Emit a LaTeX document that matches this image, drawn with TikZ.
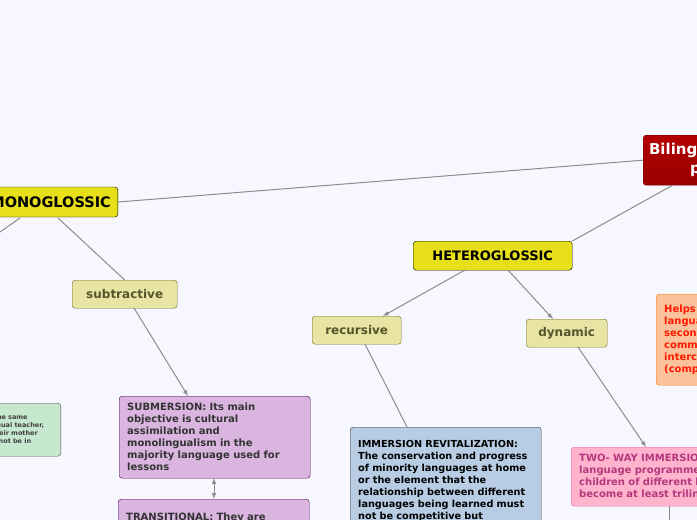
\documentclass[tikz,border=0pt]{standalone}
\usepackage{fontspec}
\setmainfont{DejaVu Sans}
\definecolor{ylw}{HTML}{E6DF1A}
\definecolor{olv}{HTML}{E8E4A4}
\definecolor{prp}{HTML}{D9B5E0}
\definecolor{blu}{HTML}{B8CCE4}
\definecolor{pnk}{HTML}{FFB3CC}
\definecolor{org}{HTML}{F9C29A}
\definecolor{grn}{HTML}{C6E8CF}
\begin{document}
\begin{tikzpicture}[x=1pt,y=-1pt,
  box/.style={draw, rounded corners=3pt, font=\bfseries, align=left, anchor=north west, inner sep=0pt},
  ln/.style={draw=black!45, line width=1pt},
  ar/.style={ln, -latex}]
\useasboundingbox (0,0) rectangle (697,520);
\fill[blue!3] (0,0) rectangle (697,520);
\clip (0,0) rectangle (697,520);
\node[box, top color=red!70!black, bottom color=red!60!black, draw=red!40!black, text=white, font=\bfseries\fontsize{15}{19}\selectfont, align=center, minimum width=175pt, minimum height=50pt] (root) at (643,135) {Bilingual education\\programs};
\node[box, fill=ylw, minimum height=30pt, font=\bfseries\fontsize{14.5}{16}\selectfont, anchor=east, inner xsep=7pt] (mono) at (118,202) {MONOGLOSSIC};
\node[box, fill=ylw, minimum width=159pt, minimum height=29pt, font=\bfseries\fontsize{13}{16}\selectfont, align=center] (het) at (413,241) {HETEROGLOSSIC};
\node[box, fill=olv, draw=olive!70!black, text=olive!50!black, minimum width=105pt, minimum height=28pt, font=\bfseries\fontsize{12}{14}\selectfont, align=center] (sub) at (72,280) {subtractive};
\node[box, fill=olv, draw=olive!70!black, text=olive!50!black, minimum width=89pt, minimum height=28pt, font=\bfseries\fontsize{12}{14}\selectfont, align=center] (rec) at (312,316) {recursive};
\node[box, fill=olv, draw=olive!70!black, text=olive!50!black, minimum width=81pt, minimum height=28pt, font=\bfseries\fontsize{12}{14}\selectfont, align=center] (dyn) at (526,319) {dynamic};
\node[box, fill=grn, draw=black!70, text=black!75, font=\bfseries\fontsize{6.5}{8}\selectfont, anchor=north east, minimum height=53pt, text width=100pt, inner xsep=5pt, inner ysep=6pt, align=left] (green) at (61,403) {classes of the same\\with a bilingual teacher,\\taught in their mother\\tongue will not be in};
\node[box, fill=prp, draw=violet!60!black, text=black!80, font=\bfseries\fontsize{10}{12}\selectfont, text width=175pt, minimum height=82pt, inner xsep=8pt, inner ysep=6pt] (subm) at (119,396) {SUBMERSION: Its main\\objective is cultural\\assimilation and\\monolingualism in the\\majority language used for\\lessons};
\node[box, fill=prp, draw=violet!60!black, text=black!80, font=\bfseries\fontsize{10}{12}\selectfont, text width=175pt, minimum height=60pt, inner xsep=8pt, inner ysep=6pt] (trans) at (118,499) {TRANSITIONAL: They are\\addressed to minority students};
\node[box, fill=blu, draw=black!80, text=black, font=\bfseries\fontsize{9.7}{12}\selectfont, text width=175pt, minimum height=120pt, inner xsep=8pt, inner ysep=5pt] (imm) at (350,427) {IMMERSION REVITALIZATION:\\The conservation and progress\\of minority languages at home\\or the element that the\\relationship between different\\languages being learned must\\not be competitive but\\dynamic};
\node[box, fill=pnk, draw=magenta!60, text=magenta!70!black, font=\bfseries\fontsize{10}{12}\selectfont, text width=190pt, minimum height=59pt, inner xsep=8pt, inner ysep=5pt] (two) at (571,447) {TWO- WAY IMMERSION: bilingual\\language programmes where\\children of different languages\\become at least trilingual};
\node[box, fill=org, draw=orange!90!red, text=red!80!orange, font=\bfseries\fontsize{10}{12}\selectfont, text width=130pt, minimum height=91pt, inner xsep=8pt, inner ysep=8pt] (ora) at (656,294) {Helps to learn a\\language as a\\second one,\\communication and\\intercultural\\(competence)};
\coordinate (mdl) at (0,232);
\coordinate (twb) at (669,520);
\draw[ln] (root.west) -- (mono.east);
\draw[ln] (673,185) -- (het.north east);
\draw[ln] (20,218) -- (mdl);
\draw[ln] (58,218) -- (sub.north);
\draw[ar] (134,308) -- (188,396);
\draw[ln, latex-latex] (214,478) -- (214,499);
\draw[ar] (465,270) -- (383,316);
\draw[ar] (508,270) -- (553,319);
\draw[ln] (365,344) -- (407,427);
\draw[ar] (578,347) -- (646,447);
\draw[ln] (669,506) -- (twb);
\end{tikzpicture}
\end{document}
